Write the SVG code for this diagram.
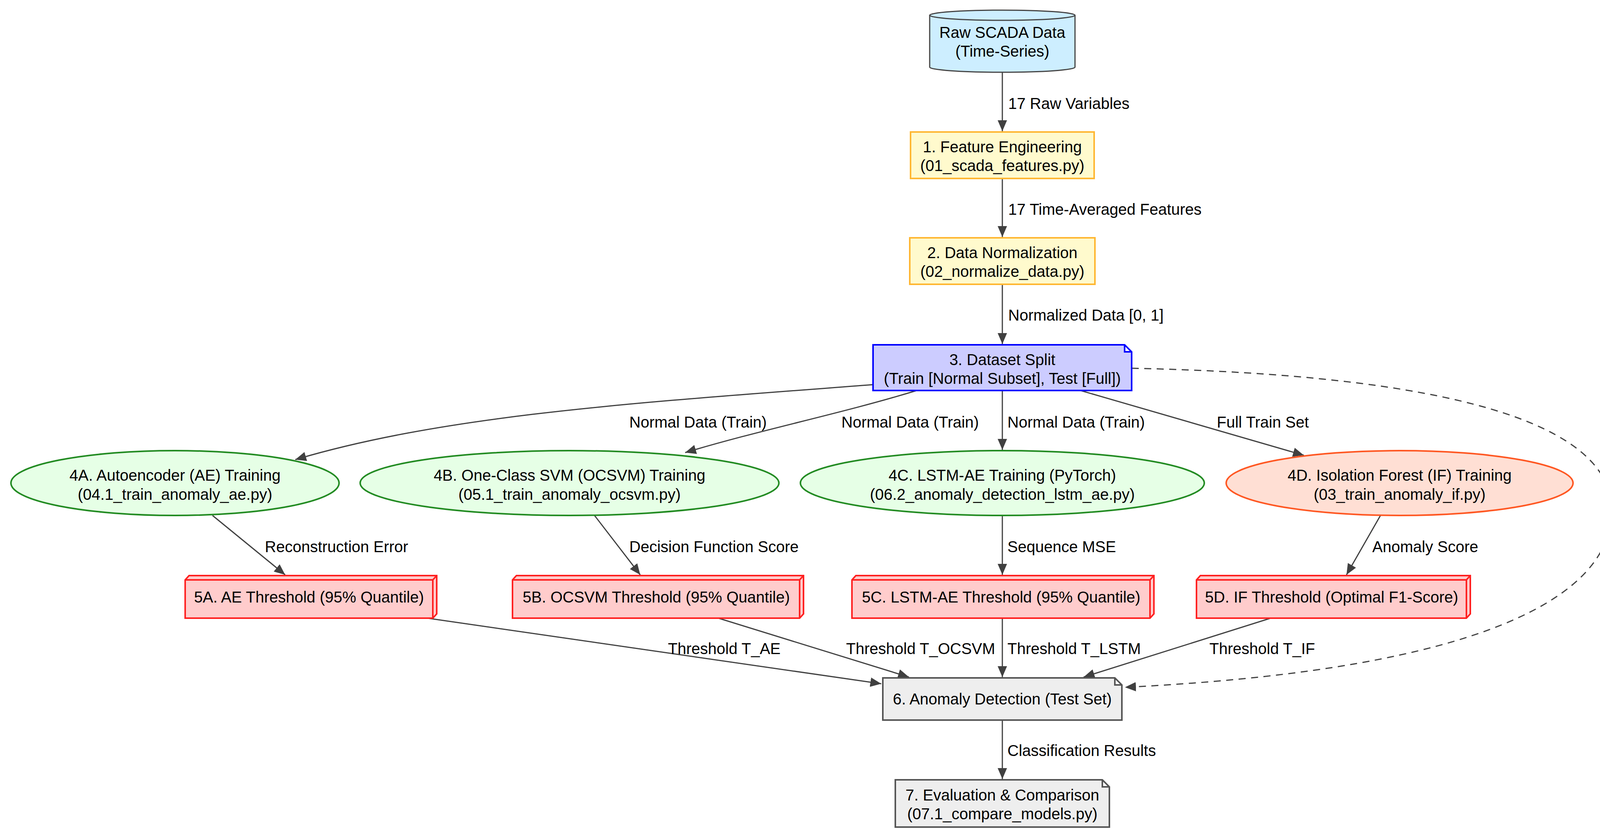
<svg xmlns="http://www.w3.org/2000/svg" width="4389" height="2146" viewBox="0 0 4389 2146">
<style>
text{font-family:"Liberation Sans",Arial,sans-serif;font-size:40px;fill:#000}
.n text{text-anchor:middle}
.e{fill:none;stroke:#404040;stroke-width:3}
.yb{fill:#fffacd;stroke:#ffb732;stroke-width:4}
.gr{fill:#e6ffe6;stroke:#228b22;stroke-width:4}
.rb{fill:#ffcccc;stroke:#ff2020;stroke-width:4}
.gy{fill:#eeeeee;stroke:#555;stroke-width:4}
</style>
<defs>
<marker id="a" markerUnits="userSpaceOnUse" markerWidth="30" markerHeight="24" refX="28" refY="12" orient="auto"><path d="M0,0 L28,12 L0,24 Z" fill="#404040"/></marker>
</defs>
<g id="edges">
<path class="e" d="M2566,185 L2566,336" marker-end="url(#a)"/>
<path class="e" d="M2566,457 L2566,607" marker-end="url(#a)"/>
<path class="e" d="M2566,728 L2566,881" marker-end="url(#a)"/>
<path class="e" d="M2235,985 C1650,1030 1150,1060 756,1177" marker-end="url(#a)"/>
<path class="e" d="M2347,1000 C2150,1060 1950,1100 1754,1159" marker-end="url(#a)"/>
<path class="e" d="M2566,1000 L2566,1152" marker-end="url(#a)"/>
<path class="e" d="M2766,1000 L3338,1166" marker-end="url(#a)"/>
<path class="e" d="M544,1320 L730,1472" marker-end="url(#a)"/>
<path class="e" d="M1522,1320 L1639,1472" marker-end="url(#a)"/>
<path class="e" d="M2566,1320 L2566,1472" marker-end="url(#a)"/>
<path class="e" d="M3534,1320 L3447,1472" marker-end="url(#a)"/>
<path class="e" d="M1094,1583 L2256,1751" marker-end="url(#a)"/>
<path class="e" d="M1839,1583 L2327,1734" marker-end="url(#a)"/>
<path class="e" d="M2566,1583 L2566,1734" marker-end="url(#a)"/>
<path class="e" d="M3253,1583 L2774,1734" marker-end="url(#a)"/>
<path class="e" d="M2566,1844 L2566,1995" marker-end="url(#a)"/>
<path class="e" stroke-dasharray="18,14" d="M2897,943 C3700,960 4130,1080 4126,1310 C4122,1560 3700,1720 2880,1760" marker-end="url(#a)"/>
<text x="2581" y="279">17 Raw Variables</text>
<text x="2581" y="550">17 Time-Averaged Features</text>
<text x="2581" y="821">Normalized Data [0, 1]</text>
<text x="1611" y="1095">Normal Data (Train)</text>
<text x="2154" y="1095">Normal Data (Train)</text>
<text x="2579" y="1095">Normal Data (Train)</text>
<text x="3115" y="1095">Full Train Set</text>
<text x="678" y="1414">Reconstruction Error</text>
<text x="1611" y="1414">Decision Function Score</text>
<text x="2579" y="1414">Sequence MSE</text>
<text x="3513" y="1414">Anomaly Score</text>
<text x="4110" y="1414" style="font-size:39px">Full Test Data</text>
<text x="1710" y="1675">Threshold T_AE</text>
<text x="2166" y="1675">Threshold T_OCSVM</text>
<text x="2579" y="1675">Threshold T_LSTM</text>
<text x="3096" y="1675">Threshold T_IF</text>
<text x="2579" y="1936">Classification Results</text>
</g>
<g id="raw" class="n">
<path d="M2380,39 L2380,172 A186,13 0 0 0 2752,172 L2752,39 A186,13 0 0 0 2380,39 Z" fill="#cdeeff" stroke="#444" stroke-width="3"/>
<path d="M2380,39 A186,13 0 0 0 2752,39" fill="none" stroke="#444" stroke-width="3"/>
<text x="2566" y="97">Raw SCADA Data</text><text x="2566" y="145">(Time-Series)</text>
</g>
<g id="n1" class="n"><rect class="yb" x="2331" y="338" width="470" height="119"/>
<text x="2566" y="390">1. Feature Engineering</text><text x="2566" y="438">(01_scada_features.py)</text></g>
<g id="n2" class="n"><rect class="yb" x="2329" y="609" width="474" height="119"/>
<text x="2566" y="661">2. Data Normalization</text><text x="2566" y="709">(02_normalize_data.py)</text></g>
<g id="n3" class="n"><path d="M2235,883 L2879,883 L2897,901 L2897,1000 L2235,1000 Z M2879,883 L2879,901 L2897,901" fill="#ccccff" stroke="#0000ff" stroke-width="4"/>
<text x="2566" y="935">3. Dataset Split</text><text x="2566" y="983">(Train [Normal Subset], Test [Full])</text></g>
<g id="n4a" class="n"><ellipse class="gr" cx="448" cy="1237" rx="420" ry="83"/>
<text x="448" y="1231">4A. Autoencoder (AE) Training</text><text x="448" y="1280">(04.1_train_anomaly_ae.py)</text></g>
<g id="n4b" class="n"><ellipse class="gr" cx="1458" cy="1237" rx="536" ry="83"/>
<text x="1458" y="1231">4B. One-Class SVM (OCSVM) Training</text><text x="1458" y="1280">(05.1_train_anomaly_ocsvm.py)</text></g>
<g id="n4c" class="n"><ellipse class="gr" cx="2566" cy="1237" rx="517" ry="83"/>
<text x="2566" y="1231">4C. LSTM-AE Training (PyTorch)</text><text x="2566" y="1280">(06.2_anomaly_detection_lstm_ae.py)</text></g>
<g id="n4d" class="n"><ellipse cx="3583" cy="1237" rx="444" ry="83" fill="#ffdfd4" stroke="#ff5722" stroke-width="4"/>
<text x="3583" y="1231">4D. Isolation Forest (IF) Training</text><text x="3583" y="1280">(03_train_anomaly_if.py)</text></g>
<g id="n5a" class="n"><path class="rb" d="M474,1485 L484,1474 L1118,1474 L1118,1572 L1108,1583 L474,1583 Z M474,1485 L1108,1485 L1108,1583 M1108,1485 L1118,1474"/>
<text x="791" y="1543">5A. AE Threshold (95% Quantile)</text></g>
<g id="n5b" class="n"><path class="rb" d="M1312,1485 L1322,1474 L2057,1474 L2057,1572 L2047,1583 L1312,1583 Z M1312,1485 L2047,1485 L2047,1583 M2047,1485 L2057,1474"/>
<text x="1680" y="1543">5B. OCSVM Threshold (95% Quantile)</text></g>
<g id="n5c" class="n"><path class="rb" d="M2181,1485 L2191,1474 L2954,1474 L2954,1572 L2944,1583 L2181,1583 Z M2181,1485 L2944,1485 L2944,1583 M2944,1485 L2954,1474"/>
<text x="2563" y="1543">5C. LSTM-AE Threshold (95% Quantile)</text></g>
<g id="n5d" class="n"><path class="rb" d="M3063,1485 L3073,1474 L3764,1474 L3764,1572 L3754,1583 L3063,1583 Z M3063,1485 L3754,1485 L3754,1583 M3754,1485 L3764,1474"/>
<text x="3409" y="1543">5D. IF Threshold (Optimal F1-Score)</text></g>
<g id="n6" class="n"><path class="gy" d="M2260,1736 L2854,1736 L2872,1754 L2872,1844 L2260,1844 Z M2854,1736 L2854,1754 L2872,1754"/>
<text x="2566" y="1804">6. Anomaly Detection (Test Set)</text></g>
<g id="n7" class="n"><path class="gy" d="M2292,1997 L2822,1997 L2840,2015 L2840,2118 L2292,2118 Z M2822,1997 L2822,2015 L2840,2015"/>
<text x="2566" y="2050">7. Evaluation &amp; Comparison</text><text x="2566" y="2098">(07.1_compare_models.py)</text></g>
</svg>
